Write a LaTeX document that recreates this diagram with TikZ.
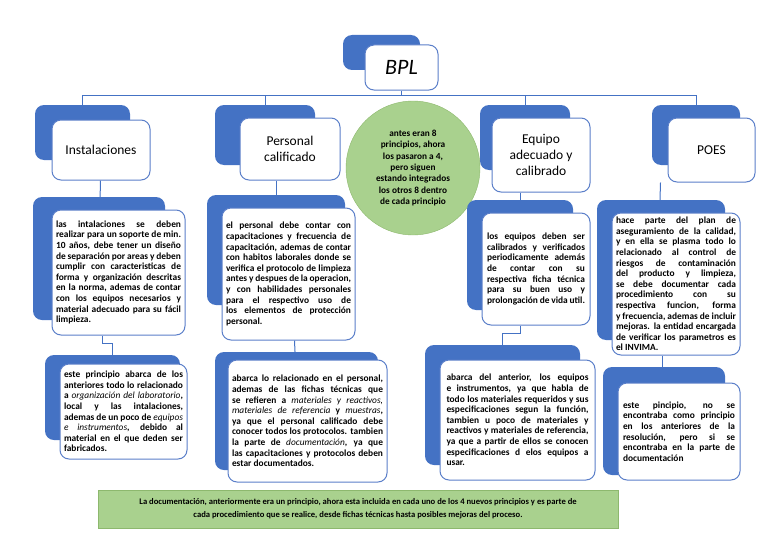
\documentclass[tikz,border=0pt]{standalone}
\usepackage{fontspec}
\setmainfont{Carlito}
\usetikzlibrary{fit,calc,backgrounds}
\definecolor{bblue}{HTML}{4472C4}
\definecolor{lblue}{HTML}{5B7FC9}
\definecolor{gfill}{HTML}{A9D18E}
\definecolor{gline}{HTML}{8DB86E}
\newcommand{\nohyph}{\hyphenpenalty10000\exhyphenpenalty10000\lefthyphenmin60\relax}
\begin{document}
\begin{tikzpicture}[x=1pt,y=-1pt,
  bluebox/.style={fill=bblue,rounded corners=9pt,inner sep=0pt},
  wbox/.style={draw=lblue,line width=1pt,fill=white,rounded corners=9pt,inner xsep=4pt,inner ysep=2pt,align=center},
  txt/.style={wbox,align=justify,font=\fontsize{9.4}{10.6}\selectfont\bfseries\nohyph},
  hd/.style={wbox,font=\fontsize{13.5}{16}\selectfont},
  conn/.style={draw=bblue,line width=1pt}]
\useasboundingbox (0,0) rectangle (768,543);
% headers
\node[bluebox,fit={(343,35)(420,70)}] (bBPL) {};
\node[hd,minimum width=73,minimum height=45,font=\fontsize{22}{24}\selectfont\itshape] (wBPL) at (401.5,67.5) {BPL};
\node[bluebox,fit={(35,105)(130,160)}] (bInst1) {};
\node[hd,minimum width=98,minimum height=60] (wInst1) at (101,150) {Instalaciones};
\node[bluebox,fit={(215,105)(315,165)}] (bPers1) {};
\node[hd,minimum width=100,minimum height=62] (wPers1) at (290,149) {Personal\\calificado};
\node[bluebox,fit={(480,105)(570,170)}] (bEq1) {};
\node[hd,minimum width=98,minimum height=74] (wEq1) at (541,155) {Equipo\\adecuado y\\calibrado};
\node[bluebox,fit={(652,105)(740,165)}] (bPo1) {};
\node[hd,minimum width=87,minimum height=64] (wPo1) at (711.5,150) {POES};
% circle
\node[circle,fill=gfill,draw=gline,minimum size=134,inner sep=0pt,align=center,font=\fontsize{9.3}{11.4}\selectfont\bfseries] (circ) at (413,168)
 {antes eran 8\\principios, ahora\\los pasaron a 4,\\pero siguen\\estando integrados\\los otros 8 dentro\\de cada principio};
% row 2
\node[bluebox,fit={(33,197)(165,320)}] (bInst2) {};
\node[txt,minimum width=133,minimum height=125,text width=125] (wInst2) at (118.5,272.5) {las intalaciones se deben realizar para un soporte de min. 10 años, debe tener un diseño de separación por areas y deben cumplir con caracteristicas de forma y organización descritas en la norma, ademas de contar con los equipos necesarios y material adecuado para su fácil limpieza.};
\node[bluebox,fit={(207,195)(345,305)}] (bPers2) {};
\node[txt,minimum width=133,minimum height=132,text width=125] (wPers2) at (288.5,274) {el personal debe contar con capacitaciones y frecuencia de capacitación, ademas de contar con habitos laborales donde se verifica el protocolo de limpieza antes y despues de la operacion, y con habilidades personales para el respectivo uso de los elementos de protección personal.};
\node[bluebox,fit={(467,200)(573,310)}] (bEq2) {};
\node[txt,minimum width=108,minimum height=112,text width=98] (wEq2) at (536,269) {los equipos deben ser calibrados y verificados periodicamente además de contar con su respectiva ficha técnica para su buen uso y prolongación de vida util.};
\node[bluebox,fit={(597,200)(725,340)}] (bPo2) {};
\node[txt,minimum width=128,minimum height=142,text width=120] (wPo2) at (676,284) {hace parte del plan de aseguramiento de la calidad, y en ella se plasma todo lo relacionado al control de riesgos de contaminación del producto y limpieza, se debe documentar cada procedimiento con su respectiva funcion, forma y frecuencia, ademas de incluir mejoras. la entidad encargada de verificar los parametros es el INVIMA.};
% row 3
\node[bluebox,fit={(45,355)(180,440)}] (bInst3) {};
\node[txt,minimum width=127,minimum height=95,text width=119] (wInst3) at (123.5,411.5) {este principio abarca de los anteriores todo lo relacionado a \textit{\mdseries organización del laboratorio}, local y las intalaciones, ademas de un poco de \textit{\mdseries equipos e instrumentos}, debido al material en el que deden ser fabricados.};
\node[bluebox,fit={(215,352)(378,470)}] (bPers3) {};
\node[txt,minimum width=159,minimum height=122,text width=151] (wPers3) at (307.5,421) {abarca lo relacionado en el personal, ademas de las fichas técnicas que se refieren a \textit{\mdseries materiales y reactivos, materiales de referencia} y \textit{\mdseries muestras}, ya que el personal calificado debe conocer todos los protocolos. tambien la parte de \textit{\mdseries documentación}, ya que las capacitaciones y protocolos deben estar documentados.};
\node[bluebox,fit={(425,345)(580,465)}] (bEq3) {};
\node[txt,minimum width=155,minimum height=120,text width=142] (wEq3) at (517.5,420) {abarca del anterior, los equipos e instrumentos, ya que habla de todo los materiales requeridos y sus especificaciones segun la función, tambien u poco de materiales y reactivos y materiales de referencia, ya que a partir de ellos se conocen especificaciones d elos equipos a usar.};
\node[bluebox,fit={(603,367)(725,475)}] (bPo3) {};
\node[txt,minimum width=122,minimum height=97,text width=112] (wPo3) at (679,431.5) {este pincipio, no se encontraba como principio en los anteriores de la resolución, pero si se encontraba en la parte de documentación};
% bottom
\node[fill=gfill,draw=gline,line width=0.8pt,minimum width=520,minimum height=38,align=center,font=\fontsize{8.6}{13}\selectfont\bfseries] (note) at (358,509) {La documentación, anteriormente era un principio, ahora esta incluida en cada uno de los 4 nuevos principios y es parte de\\cada procedimiento que se realice, desde fichas técnicas hasta posibles mejoras del proceso.};
% connectors
\begin{scope}[on background layer]
\draw[conn] (wBPL.south) -- ++(0,5) coordinate (bus);
\draw[conn] (bus) -| (bInst1.north);
\draw[conn] (bus) -| (bPers1.north);
\draw[conn] (bus) -| (bEq1.north);
\draw[conn] (bus) -| (bPo1.north);
\draw[conn] (wInst1) -- (bInst2);
\draw[conn] (wPers1.south -| bPers2.center) -- (bPers2);
\draw[conn] (wEq1.south -| bEq2.center) -- (bEq2);
\draw[conn] ($(wPo1.south)+(-51,0)$) -- ($(bPo2.north)+(-1,0)$);
\draw[conn] ($(wInst2.south)+(-16,0)$) -- ++(0,8) -| (bInst3);
\draw[conn] ($(wPers2.south)+(6,0)$) -- ($(bPers3.north)+(-1.5,0)$);
\draw[conn] (wEq2.south -| bEq2.center) -- ++(0,8) -| (bEq3);
\draw[conn] ($(wPo2.south)+(-14,0)$) -- ($(bPo3.north)+(-2,0)$);
\end{scope}
\end{tikzpicture}
\end{document}
